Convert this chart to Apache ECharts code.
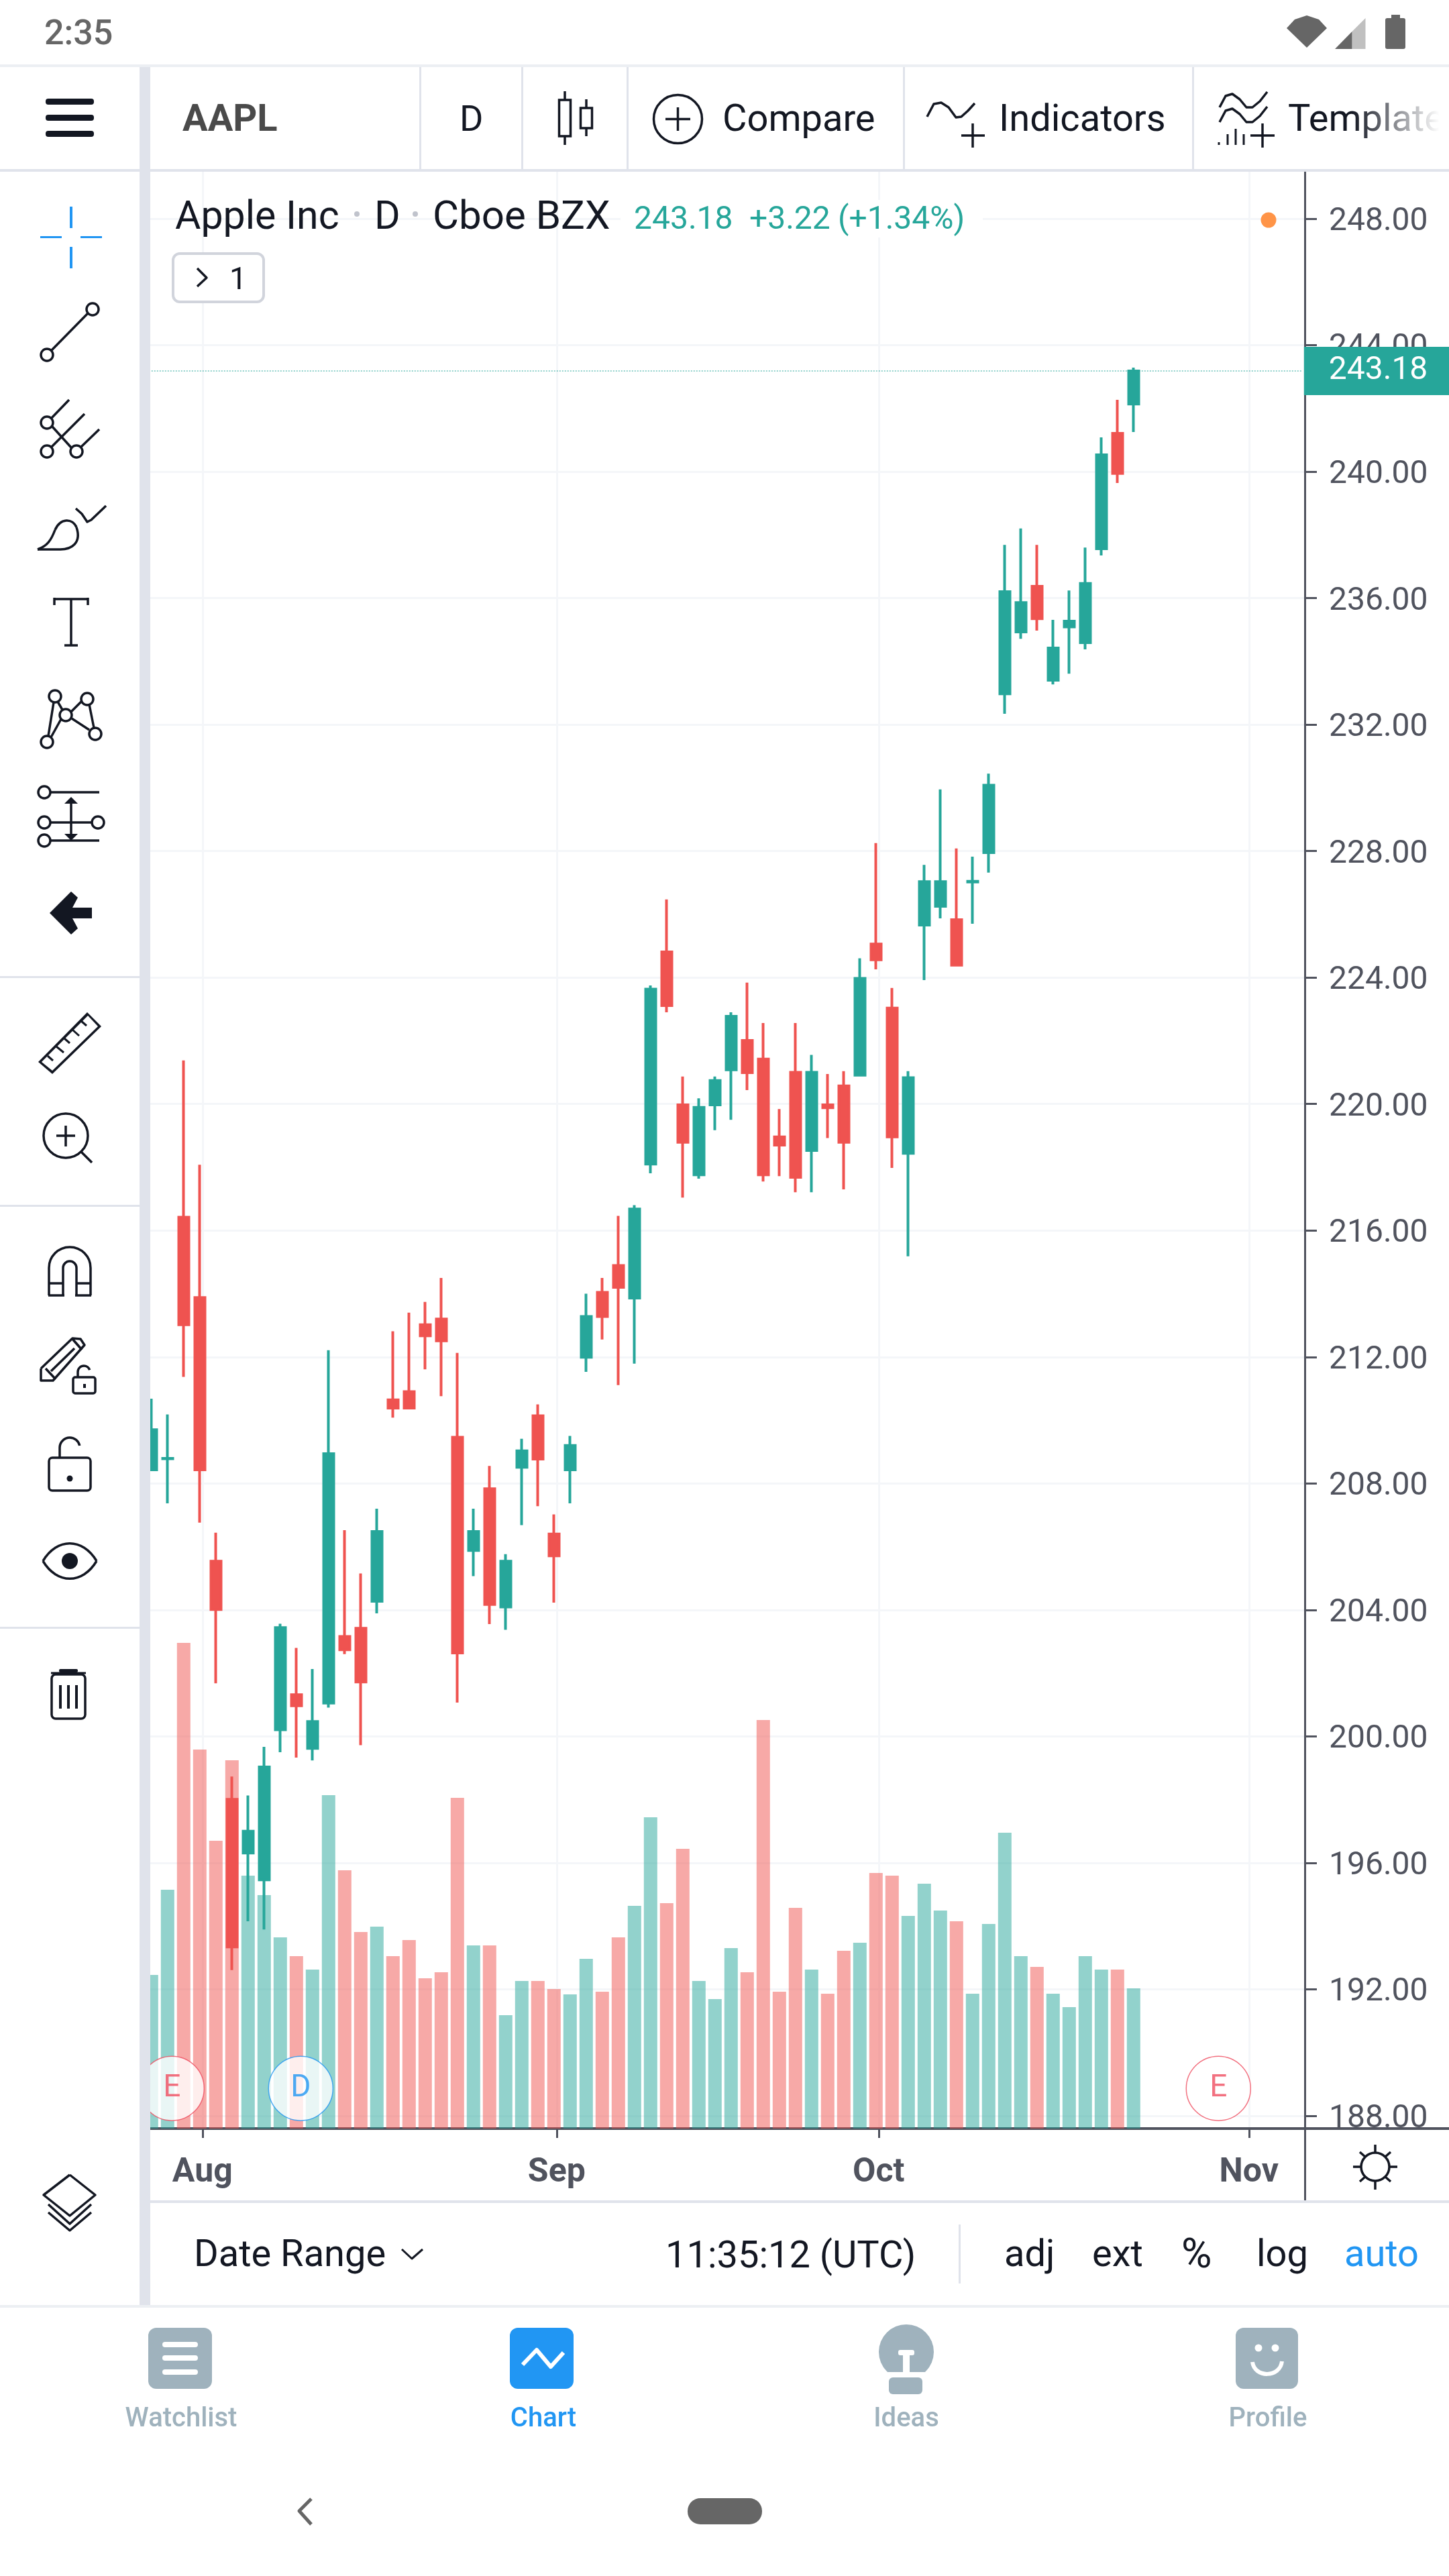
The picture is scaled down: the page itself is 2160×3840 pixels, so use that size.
<!DOCTYPE html>
<html>
<head>
<meta charset="utf-8">
<title>AAPL</title>
<script src="https://cdn.jsdelivr.net/npm/echarts@6/dist/echarts.min.js"></script>
<style>
html, body { margin: 0; padding: 0; background: #fff; }
#chart { width: 2160px; height: 3840px; }
</style>
</head>
<body>
<div id="chart"></div>
<script>
// trading days, the last ten are empty slots up to the right edge
var dates = ['Jul 29','Jul 30','Jul 31',
  'Aug 1','Aug 2','Aug 5','Aug 6','Aug 7','Aug 8','Aug 9','Aug 12','Aug 13','Aug 14','Aug 15','Aug 16','Aug 19','Aug 20','Aug 21','Aug 22','Aug 23','Aug 26','Aug 27','Aug 28','Aug 29','Aug 30',
  'Sep 3','Sep 4','Sep 5','Sep 6','Sep 9','Sep 10','Sep 11','Sep 12','Sep 13','Sep 16','Sep 17','Sep 18','Sep 19','Sep 20','Sep 23','Sep 24','Sep 25','Sep 26','Sep 27','Sep 30',
  'Oct 1','Oct 2','Oct 3','Oct 4','Oct 7','Oct 8','Oct 9','Oct 10','Oct 11','Oct 14','Oct 15','Oct 16','Oct 17','Oct 18','Oct 21','Oct 22','Oct 23','Oct 24','Oct 25','Oct 28','Oct 29','Oct 30','Oct 31',
  'Nov 1','Nov 4','Nov 5','Nov 6'];
var opens = [208.43,208.78,216.42,213.88,205.54,198.01,196.31,195.46,200.21,201.32,199.62,201.05,203.16,203.42,204.27,210.64,210.90,213.02,213.20,209.46,205.88,207.83,204.09,208.51,210.14,206.40,208.43,211.99,214.04,214.89,213.86,218.10,224.81,219.97,217.76,219.97,221.08,222.01,221.42,218.96,221.00,218.53,219.97,220.57,220.91,225.06,223.03,218.44,225.66,226.25,225.83,227.02,227.95,232.97,234.93,236.37,233.40,235.09,234.59,237.56,241.21,242.14];
var closes = [209.70,208.79,213.02,208.43,204.01,193.34,197.00,199.03,203.44,200.97,200.47,208.94,202.74,201.72,206.48,210.38,210.38,212.67,212.51,202.64,206.48,204.17,205.54,209.03,208.77,205.71,209.20,213.28,213.28,214.20,216.68,223.63,223.11,218.79,219.89,220.74,222.77,220.99,217.76,218.70,217.68,221.00,219.88,218.79,223.97,224.56,218.96,220.83,227.03,227.03,224.39,227.04,230.08,236.20,235.86,235.35,234.42,235.27,236.46,240.53,239.94,243.18];
var lows = [208.39,207.37,211.37,206.76,201.68,192.61,194.15,193.89,199.50,199.33,199.24,200.91,202.60,199.72,203.89,210.08,210.34,211.61,210.76,201.07,205.07,203.55,203.37,206.68,207.28,204.23,207.37,211.53,212.55,211.11,211.79,217.81,222.90,217.04,217.64,219.17,219.50,220.44,217.55,217.72,217.21,217.21,218.92,217.30,220.87,224.26,217.98,215.18,223.92,225.87,224.35,225.70,227.32,232.34,234.71,234.97,233.27,233.61,234.38,237.35,239.64,241.25];
var highs = [210.68,210.18,221.38,218.08,206.44,198.73,198.13,199.67,203.56,202.80,202.13,212.21,206.52,205.15,207.20,212.81,213.40,213.74,214.50,212.13,207.20,208.55,205.76,209.41,210.50,207.02,209.50,214.00,214.50,216.46,216.80,223.75,226.47,220.87,220.18,220.87,222.90,223.84,222.56,219.84,222.56,221.55,220.95,221.04,224.61,228.25,223.67,221.04,227.56,229.95,228.08,227.82,230.45,237.68,238.20,237.68,235.31,236.24,237.60,241.08,242.27,243.29];
var volumes = [22.9,35.6,72.4,56.5,42.9,54.9,37.7,34.8,28.5,25.7,23.7,49.7,38.5,29.3,30.1,25.7,28.1,22.4,23.3,49.3,27.3,27.3,16.9,22.0,22.0,20.8,20.0,25.3,20.4,28.5,33.2,46.4,33.6,41.7,22.0,19.3,26.9,23.3,60.9,20.4,32.9,23.7,20.1,26.5,27.7,38.1,37.7,31.7,36.5,32.5,30.9,20.1,30.5,44.1,25.7,24.1,20.1,18.1,25.7,23.7,23.7,20.9];
var monthTicks = { 'Aug 1': 'Aug', 'Sep 3': 'Sep', 'Oct 1': 'Oct', 'Nov 1': 'Nov' };
var lastPrice = 243.18;
var eventDates = ['Jul 30', 'Aug 9', 'Oct 30'];
var eventNames = ['E', 'D', 'E'];
var eventLevel = 188.87;

var UP = '#26a69a', DOWN = '#ef5350', INK = '#131722', AXIS = '#50535e', BLUE = '#2196f3', LINE = '#e0e3eb', GRID = '#f4f6f9', TAB = '#9fb2bd';
var FONT = 'Roboto';

var candles = opens.map(function (o, i) {
  return [o, closes[i], lows[i], highs[i]];
});
var volumeBars = volumes.map(function (v, i) {
  return { value: v, itemStyle: { color: closes[i] >= opens[i] ? 'rgba(38,166,154,0.5)' : 'rgba(239,83,80,0.5)' } };
});
var events = eventDates.map(function (d, i) {
  var c = eventNames[i] === 'D' ? BLUE : '#ef4d60';
  return {
    value: [dates.indexOf(d), eventLevel],
    itemStyle: { color: '#fff', borderColor: c, borderWidth: 1.5 },
    label: { show: true, formatter: eventNames[i], color: c, fontSize: 46, fontFamily: FONT, position: 'inside' }
  };
});

// ----- page furniture around the chart -----
var els = [];
function rc(x, y, w, h, fill, r) { els.push({ type: 'rect', shape: { x: x, y: y, width: w, height: h, r: r || 0 }, style: { fill: fill } }); }
function box(x, y, w, h, stroke, lw, r) { els.push({ type: 'rect', shape: { x: x, y: y, width: w, height: h, r: r || 0 }, style: { fill: 'none', stroke: stroke, lineWidth: lw } }); }
function ln(x1, y1, x2, y2, w, c) { els.push({ type: 'line', shape: { x1: x1, y1: y1, x2: x2, y2: y2 }, style: { stroke: c || INK, lineWidth: w || 3.5 } }); }
function pl(pts, w, c) { els.push({ type: 'polyline', shape: { points: pts }, style: { fill: 'none', stroke: c || INK, lineWidth: w || 3.5, lineJoin: 'round' } }); }
function pg(pts, fill) { els.push({ type: 'polygon', shape: { points: pts }, style: { fill: fill || INK } }); }
function ci(x, y, r, stroke, w, fill) { els.push({ type: 'circle', shape: { cx: x, cy: y, r: r }, style: { fill: fill || 'none', stroke: stroke || INK, lineWidth: w || 3.5 } }); }
function dot(x, y, r, fill) { els.push({ type: 'circle', shape: { cx: x, cy: y, r: r }, style: { fill: fill || INK } }); }
function arc(x, y, r, a0, a1, w, c) { els.push({ type: 'arc', shape: { cx: x, cy: y, r: r, startAngle: a0, endAngle: a1, clockwise: true }, style: { fill: 'none', stroke: c || INK, lineWidth: w || 3.5 } }); }
function bz(x1, y1, cx1, cy1, cx2, cy2, x2, y2, w, c) { els.push({ type: 'bezierCurve', shape: { x1: x1, y1: y1, cpx1: cx1, cpy1: cy1, cpx2: cx2, cpy2: cy2, x2: x2, y2: y2 }, style: { fill: 'none', stroke: c || INK, lineWidth: w || 3.5 } }); }
function tx(s, x, base, size, color, weight, align) {
  els.push({ type: 'text', style: { text: s, x: x, y: base - size * 0.22, fontSize: size, fontFamily: FONT, fontWeight: weight || 400, fill: color || INK, align: align || 'left', verticalAlign: 'middle' } });
}

// masks: everything outside the plot
rc(0, 0, 2160, 256, '#fff');
rc(0, 256, 208, 3184, '#fff');
rc(0, 3280, 2160, 560, '#fff');
rc(1949, 3175, 211, 105, '#fff');
rc(1945, 3171, 215, 4, AXIS);
rc(925, 298, 540, 56, '#fff');

// status bar
tx('2:35', 66, 64, 52, '#666', 500);
pg([[1918, 42], [1930, 29], [1948, 23], [1966, 29], [1978, 42], [1948, 71]], '#666');
pg([[2035.5, 27], [2035.5, 73], [2015.5, 73], [2015.5, 47]], '#c0c0c0');
pg([[2015.5, 47], [2015.5, 73], [1990, 73]], '#666');
rc(2065, 27, 30, 46, '#666', 3);
rc(2074, 22, 13, 6, '#666');

// top toolbar
rc(0, 96, 2160, 4, '#eceff3');
rc(0, 252, 2160, 4, LINE);
rc(625, 100, 3, 152, LINE);
rc(777, 100, 3, 152, LINE);
rc(934, 100, 3, 152, LINE);
rc(1346, 100, 3, 152, LINE);
rc(1777, 100, 3, 152, LINE);
rc(68, 147, 72, 9, INK, 4);
rc(68, 171, 72, 9, INK, 4);
rc(68, 195, 72, 9, INK, 4);
tx('AAPL', 272, 193, 56, '#4a4a4a', 700);
tx('D', 685, 193, 54, INK);
ln(842, 136, 842, 149); box(833.5, 149, 17, 54, INK, 3.5); ln(842, 203, 842, 216);
ln(874, 148, 874, 161); box(865.5, 161, 17, 30, INK, 3.5); ln(874, 191, 874, 203);
ci(1010.5, 177.5, 36);
ln(992, 177.5, 1029, 177.5); ln(1010.5, 160, 1010.5, 195);
tx('Compare', 1077, 193, 56, INK);
pl([[1382, 174], [1392, 155], [1403, 153], [1414, 160], [1425, 175], [1433, 174], [1443, 165], [1453, 154]]);
ln(1433, 202, 1468, 202); ln(1450, 184, 1450, 220);
tx('Indicators', 1489, 193, 56, INK);
pl([[1818, 160], [1827, 143], [1837, 140], [1848, 148], [1858, 160], [1867, 160], [1878, 151], [1889, 137]]);
pl([[1818, 182], [1827, 165], [1837, 162], [1848, 170], [1858, 182], [1867, 182], [1878, 173], [1889, 159]]);
ln(1817, 216, 1817, 212, 3); ln(1830, 216, 1830, 200, 3); ln(1842, 216, 1842, 192, 3); ln(1854, 216, 1854, 200, 3);
ln(1864, 202, 1900, 202); ln(1882, 184, 1882, 220);
tx('Template', 1920, 193, 56, INK);
els.push({ type: 'rect', shape: { x: 2015, y: 110, width: 145, height: 130 }, style: { fill: { type: 'linear', x: 0, y: 0, x2: 1, y2: 0, colorStops: [{ offset: 0, color: 'rgba(255,255,255,0)' }, { offset: 0.9, color: 'rgba(255,255,255,1)' }, { offset: 1, color: 'rgba(255,255,255,1)' }] } } });

// legend over the plot
tx('Apple Inc', 261, 339, 59, INK);
dot(532, 319, 4, '#c0c3cc');
tx('D', 558, 339, 59, INK);
dot(619, 319, 4, '#c0c3cc');
tx('Cboe BZX', 645, 339, 60, INK);
tx('243.18', 945, 340, 48, UP);
tx('+3.22', 1117, 340, 48, UP);
tx('(+1.34%)', 1249, 340, 48, UP);
dot(1891, 328, 11.5, '#ff9447');
els.push({ type: 'rect', shape: { x: 258, y: 378, width: 135, height: 72, r: 10 }, style: { fill: '#fff', stroke: '#d1d4dc', lineWidth: 4 } });
pl([[294, 400], [308, 414], [294, 427]]);
tx('1', 342, 430, 46, INK);

// left tool column
rc(208, 100, 16, 3340, LINE);
ln(60, 353.5, 92, 353.5, 3, BLUE); ln(120, 353.5, 152, 353.5, 3, BLUE);
ln(106, 308, 106, 340, 4, BLUE); ln(106, 368, 106, 400, 4, BLUE);

ci(138, 461, 9); ci(70, 529, 9); ln(76, 523, 131, 467);
ci(70, 630, 9); ci(70, 673, 9); ci(114, 673, 9);
ln(76, 624, 103, 596); ln(76, 667, 126, 617); ln(120, 667, 148, 640); ln(78, 636, 106, 667);
bz(56, 819, 70, 814, 76, 806, 82, 790); bz(82, 790, 90, 772, 108, 772, 114, 786); bz(114, 786, 122, 810, 106, 819, 90, 819); ln(56, 819, 90, 819);
pl([[113, 758], [122, 766], [130, 778], [136, 775], [158, 754]]);
ln(106, 892, 106, 962); ln(80, 893, 132, 893); ln(81, 891, 81, 902); ln(131, 891, 131, 902); ln(96, 962, 116, 962);
ci(82, 1038, 9); ci(130, 1042, 9); ci(98, 1066, 9); ci(70, 1106, 9); ci(142, 1094, 9);
ln(72, 1097, 80, 1047); ln(86, 1046, 93, 1058); ln(76, 1099, 91, 1072); ln(106, 1061, 121, 1046); ln(133, 1050, 140, 1085); ln(107, 1071, 133, 1088);
ci(66, 1181, 9); ln(75, 1181, 148, 1181);
ci(66, 1226, 9); ln(75, 1226, 137, 1226); ci(146, 1226, 9);
ci(66, 1253, 9); ln(75, 1253, 148, 1253);
ln(106, 1195, 106, 1245); pg([[96, 1198], [106, 1188], [116, 1198]]); pg([[96, 1243], [106, 1253], [116, 1243]]);
pg([[74, 1361], [106, 1329], [116, 1338], [108, 1353], [137, 1353], [137, 1369], [108, 1369], [116, 1384], [106, 1393]]);
rc(0, 1455, 208, 3, LINE);

pg([[57, 1583], [130, 1509], [151, 1530], [78, 1601]], INK);
pg([[62, 1583], [131, 1514], [146, 1530], [78, 1596]], '#fff');
ln(71, 1574, 79, 1581, 3); ln(84, 1560, 95, 1569, 3); ln(96, 1548, 104, 1555, 3); ln(108, 1535, 118, 1544, 3); ln(121, 1522, 129, 1529, 3);
ci(98, 1693, 33); ln(84, 1693, 112, 1693); ln(98, 1678, 98, 1709); ln(121, 1717, 137, 1733);
rc(0, 1796, 208, 3, LINE);

arc(104, 1890, 31, Math.PI, 0, 3.5);
arc(104, 1890, 10, Math.PI, 0, 3.5);
ln(73, 1890, 73, 1931); ln(135, 1890, 135, 1931); ln(94, 1890, 94, 1931); ln(114, 1890, 114, 1931);
ln(72, 1931, 96, 1931); ln(112, 1931, 136, 1931); ln(73, 1913, 94, 1913); ln(114, 1913, 135, 1913);
pl([[61, 2040], [108, 1995], [120, 1996], [126, 2005], [79, 2058], [61, 2058], [61, 2040]]);
ln(68, 2040, 83, 2056); ln(108, 1996, 122, 2012); ln(76, 2044, 111, 2010);
box(109, 2053, 33, 24, INK, 3.5, 3); arc(125, 2045, 9, Math.PI, -0.3, 3.5); ln(116, 2045, 116, 2053); rc(124, 2063, 4, 6, INK);
box(73, 2173, 62, 49, INK, 3.5, 5); ln(89, 2173, 89, 2158); arc(104, 2158, 15, Math.PI, -0.2, 3.5); dot(104, 2204, 4.5);
bz(64, 2327, 85, 2292, 123, 2292, 144, 2327); bz(64, 2327, 85, 2362, 123, 2362, 144, 2327); dot(104, 2327, 12);
rc(0, 2425, 208, 3, LINE);

ln(76, 2494, 128, 2494, 3); rc(88, 2488, 28, 5, INK, 2);
box(77, 2496, 50, 66, INK, 3.5, 6);
rc(88, 2512, 4, 35, INK); rc(100, 2512, 4, 35, INK); rc(112, 2512, 4, 35, INK);

pl([[104, 3242], [142, 3272], [104, 3303], [65, 3272], [104, 3242]]);
pl([[72, 3286], [104, 3315], [136, 3286]]);
pl([[72, 3298], [104, 3325], [136, 3298]]);

// sun icon and bar under the axes
ci(2050, 3230, 21);
ln(2050, 3197, 2050, 3208); ln(2050, 3252, 2050, 3264); ln(2017, 3230, 2029, 3230); ln(2071, 3230, 2083, 3230);
ln(2027, 3208, 2035, 3215); ln(2065, 3215, 2073, 3208); ln(2027, 3252, 2035, 3245); ln(2065, 3245, 2073, 3252);
rc(224, 3280, 1936, 4, LINE);
tx('Date Range', 289, 3376, 56, INK);
pl([[599, 3353], [614, 3367], [630, 3353]], 3);
tx('11:35:12 (UTC)', 992, 3378, 56, INK);
rc(1429, 3316, 3, 88, LINE);
tx('adj', 1497, 3376, 56, INK);
tx('ext', 1628, 3376, 56, INK);
tx('%', 1761, 3378, 62, INK);
tx('log', 1873, 3376, 56, INK);
tx('auto', 2004, 3376, 56, BLUE);

// bottom tabs
rc(0, 3436, 2160, 4, '#eceff3');
rc(221, 3470, 95, 91, TAB, 12);
rc(242, 3491, 53, 8, '#fff', 4); rc(242, 3511, 53, 8, '#fff', 4); rc(242, 3532, 53, 8, '#fff', 4);
tx('Watchlist', 270, 3616, 40, TAB, 500, 'center');
rc(760, 3470, 95, 91, BLUE, 12);
pl([[779, 3525], [800, 3503], [821, 3528], [840, 3507]], 6, '#fff');
tx('Chart', 810, 3616, 40, BLUE, 500, 'center');
dot(1351, 3506, 41, TAB);
rc(1306, 3536, 90, 16, '#fff');
rc(1325, 3544, 50, 25, TAB, 6);
rc(1339, 3503, 24, 8, '#fff', 3); rc(1346, 3508, 10, 28, '#fff');
tx('Ideas', 1351, 3616, 40, TAB, 500, 'center');
rc(1842, 3470, 93, 91, TAB, 12);
dot(1876, 3500, 5.5, '#fff'); dot(1901, 3500, 5.5, '#fff');
bz(1867, 3521, 1870, 3545, 1908, 3545, 1911, 3520, 6, '#fff');
tx('Profile', 1890, 3616, 40, TAB, 500, 'center');

// android nav bar
pl([[464, 3725], [446, 3743], [464, 3763]], 5, '#666');
rc(1025, 3724, 111, 39, '#666', 19);

els.forEach(function (e) { e.z = 100; e.silent = true; });

// ----- chart -----
var priceTop = 137.4, priceHeight = 3205.1;  // 252 .. 184 mapped so the ticks fall where they do
var plotTop = 256, plotHeight = 2917;

var myChart = echarts.init(document.getElementById('chart'), null, { renderer: 'canvas' });
myChart.setOption({
  animation: false,
  backgroundColor: '#fff',
  textStyle: { fontFamily: FONT },
  grid: [
    { left: 213.8, width: 1728, top: priceTop, height: priceHeight },   // candles
    { left: 213.8, width: 1728, top: plotTop, height: plotHeight },     // volume
    { left: 217.8, width: 1727.2, top: priceTop, height: priceHeight }, // price scale
    { left: 217.8, width: 1728, top: plotTop, height: plotHeight }      // month scale
  ],
  xAxis: [
    { type: 'category', gridIndex: 0, data: dates, show: false },
    { type: 'category', gridIndex: 1, data: dates, show: false },
    { type: 'value', gridIndex: 2, min: 0, max: 1, show: false },
    {
      type: 'category', gridIndex: 3, data: dates, position: 'bottom',
      axisLine: { show: true, onZero: false, lineStyle: { color: AXIS, width: 4 } },
      axisTick: {
        show: true, alignWithLabel: true, length: 14, lineStyle: { color: AXIS, width: 3 },
        interval: function (i, v) { return !!monthTicks[v]; }
      },
      axisLabel: {
        show: true, margin: 41, color: AXIS, fontSize: 50, fontWeight: 700, fontFamily: FONT,
        interval: function (i, v) { return !!monthTicks[v]; },
        formatter: function (v) { return monthTicks[v] || ''; }
      },
      splitLine: {
        show: true, alignWithLabel: true, lineStyle: { color: GRID, width: 3 },
        interval: function (i, v) { return !!monthTicks[v]; }
      }
    }
  ],
  yAxis: [
    { type: 'value', gridIndex: 0, min: 184, max: 252, show: false },
    { type: 'value', gridIndex: 1, min: 0, max: 291.7, show: false },
    {
      type: 'value', gridIndex: 2, min: 184, max: 252, interval: 4, position: 'right',
      axisLine: { show: true, onZero: false, lineStyle: { color: AXIS, width: 3 } },
      axisTick: { show: true, length: 18, lineStyle: { color: AXIS, width: 3 } },
      axisLabel: {
        margin: 36, color: AXIS, fontSize: 48, fontFamily: FONT, verticalAlign: 'top', lineHeight: 10,
        formatter: function (v) { return v.toFixed(2); }
      },
      splitLine: { show: true, lineStyle: { color: GRID, width: 3 } }
    },
    { type: 'value', gridIndex: 3, min: 187.6, max: 249.5, show: false }
  ],
  series: [
    {
      name: 'Volume', type: 'bar', xAxisIndex: 1, yAxisIndex: 1,
      data: volumeBars, barWidth: 20, silent: true
    },
    {
      name: 'AAPL', type: 'candlestick', xAxisIndex: 0, yAxisIndex: 0,
      data: candles, barWidth: 16, silent: true,
      itemStyle: { color: UP, color0: DOWN, borderColor: UP, borderColor0: DOWN, borderWidth: 4 },
      markLine: {
        silent: true, symbol: 'none', animation: false,
        data: [{ yAxis: lastPrice }],
        lineStyle: { color: 'rgba(38,166,154,0.5)', width: 2, type: 'dotted' },
        label: {
          position: 'end', distance: 2, color: '#fff', fontSize: 48, fontFamily: FONT, lineHeight: 46,
          backgroundColor: UP, padding: [15, 36, 11, 37], align: 'left',
          formatter: function (p) { return p.value.toFixed(2); }
        }
      }
    },
    {
      name: 'Events', type: 'scatter', xAxisIndex: 3, yAxisIndex: 3,
      data: events, symbol: 'circle', symbolSize: 96, symbolOffset: [2.5, 0], silent: true, z: 4
    }
  ],
  graphic: { elements: els }
});
</script>
</body>
</html>
